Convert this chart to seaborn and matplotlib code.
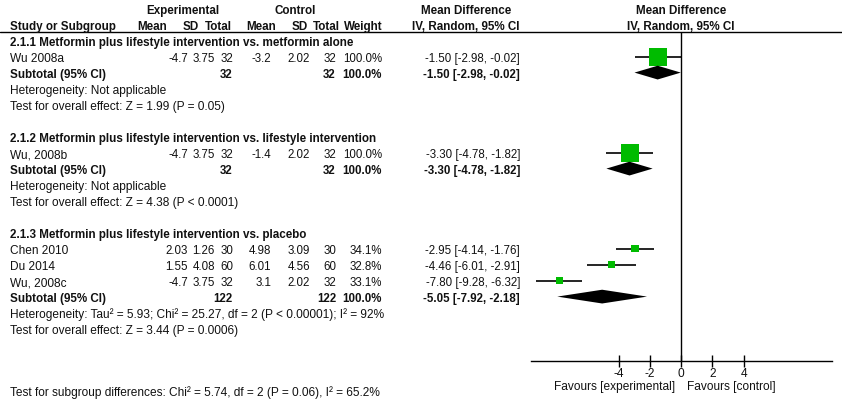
import matplotlib
matplotlib.use('Agg')
import matplotlib.pyplot as plt
import seaborn as sns

# data ---------------------------------------------------------------------------------------
group_titles = ['2.1.1 Metformin plus lifestyle intervention vs. metformin alone',
                '2.1.2 Metformin plus lifestyle intervention vs. lifestyle intervention',
                '2.1.3 Metformin plus lifestyle intervention vs. placebo']
group_of   = [0, 1, 2, 2, 2]
studies    = ['Wu 2008a', 'Wu, 2008b', 'Chen 2010', 'Du 2014', 'Wu, 2008c']
exp_mean   = [-4.7, -4.7, 2.03, 1.55, -4.7]
exp_sd     = [3.75, 3.75, 1.26, 4.08, 3.75]
exp_n      = [32, 32, 30, 60, 32]
ctl_mean   = [-3.2, -1.4, 4.98, 6.01, 3.1]
ctl_sd     = [2.02, 2.02, 3.09, 4.56, 2.02]
ctl_n      = [32, 32, 30, 60, 32]
weight     = [100.0, 100.0, 34.1, 32.8, 33.1]
md         = [-1.50, -3.30, -2.95, -4.46, -7.80]
md_lo      = [-2.98, -4.78, -4.14, -6.01, -9.28]
md_hi      = [-0.02, -1.82, -1.76, -2.91, -6.32]

sub_exp_n  = [32, 32, 122]
sub_ctl_n  = [32, 32, 122]
sub_weight = [100.0, 100.0, 100.0]
sub_md     = [-1.50, -3.30, -5.05]
sub_lo     = [-2.98, -4.78, -7.92]
sub_hi     = [-0.02, -1.82, -2.18]
sub_het    = ['Heterogeneity: Not applicable',
              'Heterogeneity: Not applicable',
              'Heterogeneity: Tau\u00b2 = 5.93; Chi\u00b2 = 25.27, df = 2 (P < 0.00001); I\u00b2 = 92%']
sub_test   = ['Test for overall effect: Z = 1.99 (P = 0.05)',
              'Test for overall effect: Z = 4.38 (P < 0.0001)',
              'Test for overall effect: Z = 3.44 (P = 0.0006)']
subgroup_test = 'Test for subgroup differences: Chi\u00b2 = 5.74, df = 2 (P = 0.06), I\u00b2 = 65.2%'
x_ticks    = [-4, -2, 0, 2, 4]

# style --------------------------------------------------------------------------------------
sns.set_style('white')
plt.rcParams['font.family'] = ['Liberation Sans', 'DejaVu Sans']
plt.rcParams['axes.unicode_minus'] = False
FS = 8.6      # running text
FSB = 8.4     # bold titles
FSN = 8.3     # table cells
TC = '#111111'
GREEN = '#00bb00'

fig = plt.figure(figsize=(8.42, 4.0), dpi=100)
ax = fig.add_axes([0, 0, 1, 1])
ax.set_xlim(0, 842)
# rows are 16 px apart, row 0 at y = 43 px
ax.set_ylim((400 - 43) / 16, -43 / 16)
ax.axis('off')

fx = fig.add_axes([531 / 842, 1 - 361 / 400, (832 - 531) / 842, (361 - 32) / 400])
fx.patch.set_visible(False)
fx.set_ylim((361 - 43) / 16, (32 - 43) / 16)
fx.set_xlim(-9.6, 9.65)


def put(x, r, s, ha='right', bold=False, size=None):
    if size is None:
        size = FSB if bold else FS
    ax.text(x, r, s, ha=ha, va='center', fontsize=size, color=TC,
            fontweight='bold' if bold else 'normal')


# columns (right edges in px)
C_EM, C_ES, C_EN, C_CM, C_CS, C_CN, C_W, C_CI = 188, 215, 233, 271, 310, 336, 382, 520

# header
put(183, -2, 'Experimental', 'center', True)
put(295, -2, 'Control', 'center', True)
put(466, -2, 'Mean Difference', 'center', True)
put(10, -1, 'Study or Subgroup', 'left', True)
for x, s in [(167, 'Mean'), (199, 'SD'), (232, 'Total'), (276, 'Mean'), (308, 'SD'),
             (340, 'Total'), (383, 'Weight')]:
    put(x, -1, s, bold=True)
put(466, -1, 'IV, Random, 95% CI', 'center', True)
ax.axhline(-11 / 16, color='black', lw=1)
for r, s in [(-2, 'Mean Difference'), (-1, 'IV, Random, 95% CI')]:
    fx.text(0, r, s, ha='center', va='center', fontsize=FSB, color=TC, fontweight='bold')

# body
study_rows, sub_rows = [], []
r = 0
for g, title in enumerate(group_titles):
    put(10, r, title, 'left', True)
    r += 1
    for i in [k for k, gg in enumerate(group_of) if gg == g]:
        put(10, r, studies[i], 'left')
        put(C_EM, r, f'{exp_mean[i]:g}', size=FSN)
        put(C_ES, r, f'{exp_sd[i]:g}', size=FSN)
        put(C_EN, r, f'{exp_n[i]}', size=FSN)
        put(C_CM, r, f'{ctl_mean[i]:g}', size=FSN)
        put(C_CS, r, f'{ctl_sd[i]:g}', size=FSN)
        put(C_CN, r, f'{ctl_n[i]}', size=FSN)
        put(C_W, r, f'{weight[i]:.1f}%', size=FSN)
        put(C_CI, r, f'{md[i]:.2f} [{md_lo[i]:.2f}, {md_hi[i]:.2f}]', size=FSN)
        study_rows.append(r)
        r += 1
    put(10, r, 'Subtotal (95% CI)', 'left', True)
    put(C_EN, r, f'{sub_exp_n[g]}', bold=True, size=FSN)
    put(C_CN, r, f'{sub_ctl_n[g]}', bold=True, size=FSN)
    put(C_W, r, f'{sub_weight[g]:.1f}%', bold=True, size=FSN)
    put(C_CI, r, f'{sub_md[g]:.2f} [{sub_lo[g]:.2f}, {sub_hi[g]:.2f}]', bold=True, size=FSN)
    sub_rows.append(r)
    put(10, r + 1, sub_het[g], 'left')
    put(10, r + 2, sub_test[g], 'left')
    r += 4
put(10, r + 1.875, subgroup_test, 'left')

# forest marks
off = -0.15
mark_y = [y + off for y in study_rows]
fx.hlines(mark_y, md_lo, md_hi, color='black', lw=1.2, zorder=2)
sns.scatterplot(x=md, y=mark_y, size=weight, sizes=(26, 168), marker='s', color=GREEN,
                edgecolor='none', legend=False, ax=fx, zorder=3)
for g, y in enumerate(sub_rows):
    y = y + off
    fx.fill([sub_lo[g], sub_md[g], sub_hi[g], sub_md[g]], [y, y - 0.43, y, y + 0.43],
            color='black', lw=0, zorder=3)
fx.axvline(0, color='black', lw=1, zorder=1)

sns.despine(ax=fx, left=True, top=True, right=True)
fx.spines['bottom'].set_color('black')
fx.spines['bottom'].set_linewidth(1)
fx.set_xticks(x_ticks)
fx.set_xticklabels([f'{t}' for t in x_ticks])
fx.set_yticks([])
fx.tick_params(axis='x', direction='inout', length=8, width=1, color='black',
               labelsize=FS, labelcolor=TC, pad=1, bottom=True)
fx.set_xlabel('')
fx.set_ylabel('')
fx.annotate('Favours [experimental]', xy=(0, 0), xycoords=('data', 'axes fraction'),
            xytext=(-4.5, -19), textcoords='offset points', ha='right', va='center',
            fontsize=FS, color=TC)
fx.annotate('Favours [control]', xy=(0, 0), xycoords=('data', 'axes fraction'),
            xytext=(4.5, -19), textcoords='offset points', ha='left', va='center',
            fontsize=FS, color=TC)

fig.savefig('out.png', dpi=100)
